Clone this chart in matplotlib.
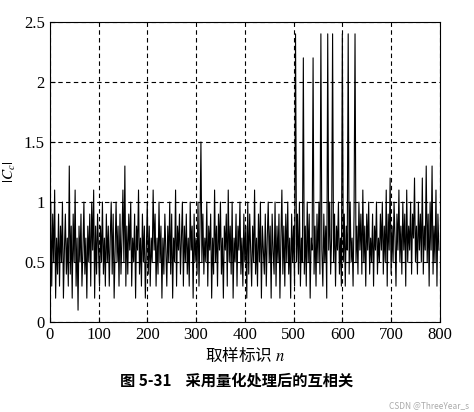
import matplotlib
matplotlib.use("Agg")
import matplotlib.pyplot as plt
import numpy as np

plt.rcParams["font.family"] = ["Noto Sans CJK SC", "DejaVu Sans"]
plt.rcParams["mathtext.fontset"] = "stix"

# hand-read samples, one every 2 index steps (n = 0, 2, ..., 798)
CC_VALUES = [
    0.6,1.0,0.3,0.9,0.5,1.1,0.2,0.7,0.4,0.9,0.3,0.8,0.5,1.0,0.2,0.6,0.9,0.4,0.7,0.3,
    1.3,0.4,0.8,0.2,0.9,0.5,1.1,0.3,0.7,0.1,0.8,0.5,0.9,0.3,0.6,1.0,0.4,0.7,0.2,0.8,
    0.5,0.9,0.3,1.0,0.6,1.1,0.2,0.8,0.4,0.9,0.6,0.3,0.8,0.5,1.0,0.4,0.7,0.3,0.9,0.5,
    0.8,0.3,0.7,1.0,0.4,0.9,0.2,0.6,1.0,0.5,0.8,0.3,0.9,0.4,0.7,1.1,0.5,1.3,0.3,0.8,
    0.4,0.9,0.6,1.0,0.3,0.7,0.5,0.9,0.2,0.8,0.6,1.1,0.4,0.7,0.3,0.9,0.5,0.8,0.2,0.6,
    1.0,0.4,0.8,0.3,0.7,0.5,1.1,0.6,0.9,0.3,0.7,0.4,1.0,0.5,0.8,0.2,0.7,0.4,0.9,0.6,
    0.3,0.8,0.5,1.0,0.4,0.9,0.2,0.7,0.5,1.1,0.3,0.8,0.6,0.9,0.4,0.7,1.0,0.3,0.8,0.5,
    0.9,0.4,0.7,0.3,1.0,0.6,0.8,0.2,0.9,0.5,0.7,0.4,1.0,0.3,0.8,1.5,0.5,0.9,0.4,0.7,
    0.5,1.0,0.3,0.8,0.6,0.9,0.2,0.7,0.4,1.1,0.5,0.8,0.3,0.9,0.6,1.0,0.4,0.7,0.2,0.8,
    0.6,0.9,0.3,1.1,0.5,0.8,0.4,1.0,0.2,0.7,0.5,0.9,0.3,0.8,0.6,1.0,0.4,0.7,0.3,0.9,
    0.5,0.8,0.2,1.0,0.4,0.9,0.6,0.3,0.8,0.5,1.1,0.4,0.7,0.3,0.9,0.5,1.0,0.2,0.8,0.6,
    0.4,0.9,0.3,0.7,1.0,0.5,0.8,0.2,0.9,0.6,0.4,1.0,0.3,0.8,0.5,0.9,0.2,0.7,1.1,0.4,
    0.8,0.3,0.9,0.5,1.0,0.4,0.7,0.2,0.9,0.5,0.8,0.3,2.4,0.5,0.9,0.4,1.0,0.3,0.7,0.5,
    2.2,0.4,0.8,0.3,1.0,0.5,0.9,0.2,0.7,0.6,2.2,0.4,0.8,0.3,0.9,0.5,1.0,0.4,2.4,0.6,
    0.3,0.9,0.5,0.8,0.2,2.4,0.6,1.0,0.4,0.7,2.4,0.5,0.9,0.3,0.8,0.6,1.0,0.4,0.7,0.3,
    2.4,0.5,0.9,0.3,0.8,0.6,2.4,0.4,1.0,0.5,0.7,0.3,0.9,2.4,0.5,0.8,0.4,1.0,0.6,0.9,
    0.4,1.1,0.5,0.8,0.3,0.9,0.6,1.0,0.4,0.7,0.5,0.9,0.3,0.8,0.6,1.0,0.4,0.7,0.5,0.9,
    0.6,1.0,0.4,0.8,0.5,1.1,0.3,0.9,0.6,1.2,0.4,0.8,0.5,1.0,0.7,0.3,0.9,0.6,1.1,0.5,
    0.8,0.4,1.0,0.6,0.9,0.3,1.1,0.5,0.8,0.6,1.0,0.4,0.9,0.7,1.2,0.5,0.8,0.4,1.0,0.6,
    0.9,0.5,1.2,0.4,0.8,0.6,1.3,0.5,0.9,0.3,1.0,0.6,1.3,0.4,0.8,0.5,1.1,0.3,0.9,0.6,
]
N_VALUES = np.arange(0, 800, 2)
X_TICKS = [0, 100, 200, 300, 400, 500, 600, 700, 800]
Y_TICKS = [0, 0.5, 1, 1.5, 2, 2.5]
Y_TICK_LABELS = ["0", "0.5", "1", "1.5", "2", "2.5"]

fig = plt.figure(figsize=(4.74, 4.12), dpi=100)
ax = fig.add_axes([0.105, 0.218, 0.823, 0.729])
ax.plot(N_VALUES, CC_VALUES, color="black", linewidth=0.8)
ax.set_xlim(0, 800)
ax.set_ylim(0, 2.5)
ax.set_xticks(X_TICKS)
ax.set_xticklabels([str(t) for t in X_TICKS], family="Liberation Serif")
ax.set_yticks(Y_TICKS)
ax.set_yticklabels(Y_TICK_LABELS, family="Liberation Serif")
ax.grid(True, linestyle=(0, (4, 3)), color="black", linewidth=0.8)
ax.tick_params(direction="in", labelsize=12)
ax.set_xlabel("取样标识 $n$", fontsize=12, labelpad=2)
ax.set_ylabel("$|C_c|$", fontsize=11)

fig.text(0.5, 0.065, "图 5-31    采用量化处理后的互相关", ha="center",
         fontsize=11, fontweight="bold")
fig.text(0.99, 0.01, "CSDN @ThreeYear_s", ha="right", fontsize=6, color="#aaaaaa")

fig.savefig("out.png", dpi=100)
